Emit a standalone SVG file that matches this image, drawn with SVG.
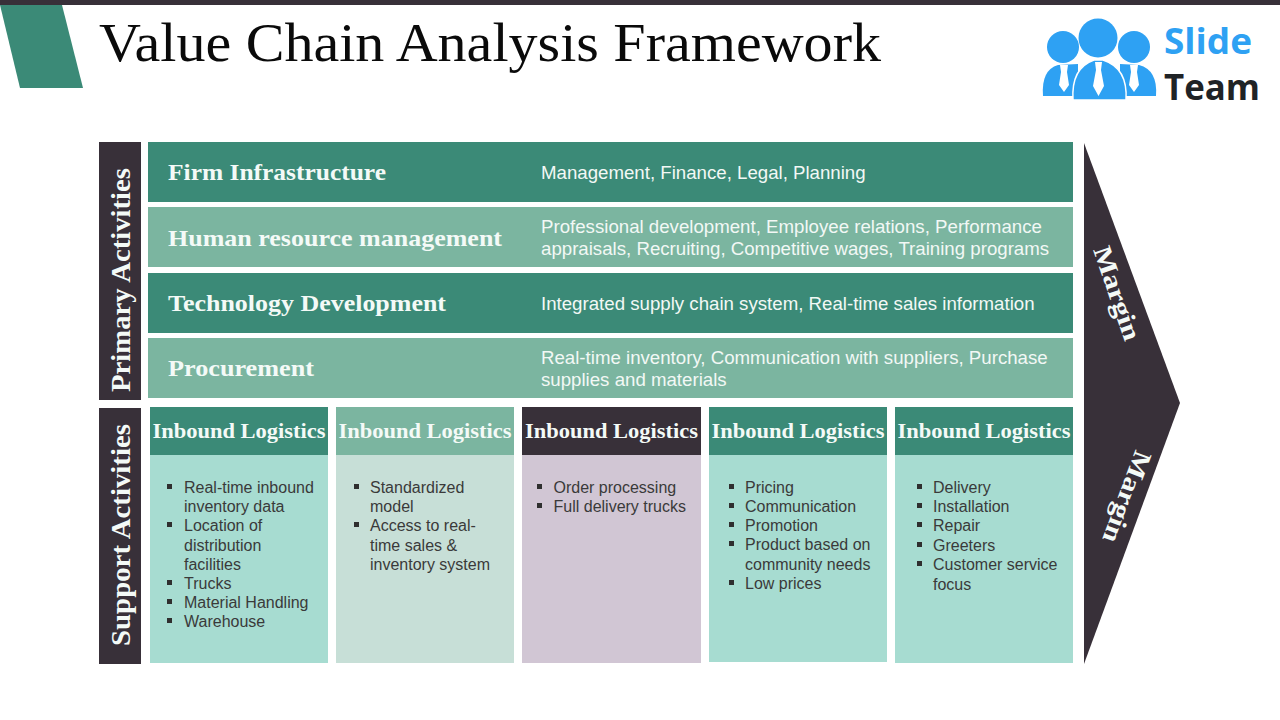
<svg xmlns="http://www.w3.org/2000/svg" width="1280" height="720" viewBox="0 0 1280 720">
<style>
.h{font-family:"Liberation Serif","DejaVu Serif",serif;font-weight:700;fill:#f4faf7}
.row{font-size:24px}
.col{font-size:20.5px;text-anchor:middle}
.side{font-size:27px;text-anchor:middle}
.t{font-family:"Liberation Sans",Arial,sans-serif;font-size:18.67px;fill:#f2f8f5}
.b{font-family:"Liberation Sans",Arial,sans-serif;font-size:16px;fill:#3a3a3a}
.d{fill:#383039}.g{fill:#3b8a77}.l{fill:#7bb5a0}
.bullet{fill:#2f2f2f}
.blue{fill:#2ea1f3}
</style>
<rect width="1280" height="720" fill="#fff"/>
<rect class="d" width="1280" height="5"/>
<polygon id="accent" class="g" points="0,5 62,5 83,88 20,88"/>
<text id="title" x="99" y="61" font-family="'Liberation Serif',serif" font-size="55px" fill="#0a0a0a" textLength="782" lengthAdjust="spacingAndGlyphs">Value Chain Analysis Framework</text>
<g id="logo">
<circle class="blue" cx="1063" cy="47" r="16"/><circle class="blue" cx="1134" cy="47" r="16"/><circle class="blue" cx="1098" cy="38" r="19.5"/>
<path class="blue" d="M1043,96 Q1041,70 1058,65 L1078,64 L1078,96Z"/>
<path class="blue" d="M1156,96 Q1158,70 1139,65 L1120,64 L1120,96Z"/>
<path class="blue" d="M1073,100 Q1071,68 1094,60 L1103,60 Q1128,68 1126,100Z" stroke="#fff" stroke-width="1.5"/>
<polygon points="1095,62 1102,62 1101,70 1104,86 1098.500,96 1093,86 1096,70" fill="#fff"/>
<polygon points="1060,65 1068,65 1067,72 1069,85 1064,92 1059,85 1061,72" fill="#fff"/>
<polygon points="1130,65 1138,65 1137,72 1139,85 1134,92 1129,85 1131,72" fill="#fff"/>
<text x="1164" y="54" font-family="'Open Sans','DejaVu Sans',sans-serif" font-weight="700" font-size="35px" fill="#2ea1f3" textLength="88" lengthAdjust="spacingAndGlyphs">Slide</text>
<text x="1164" y="100" font-family="'Open Sans','DejaVu Sans',sans-serif" font-weight="700" font-size="35px" fill="#1f2326" textLength="96" lengthAdjust="spacingAndGlyphs">Team</text>
</g>
<g id="primary-label"><rect class="d" x="99" y="142" width="42" height="258"/>
<text class="h side" transform="translate(130,280) rotate(-90)" textLength="224" lengthAdjust="spacingAndGlyphs">Primary Activities</text></g>
<g id="support-label"><rect class="d" x="99" y="408" width="42" height="256"/>
<text class="h side" transform="translate(130,535) rotate(-90)" textLength="222" lengthAdjust="spacingAndGlyphs">Support Activities</text></g>
<g id="row-firm"><rect class="g" x="148" y="142" width="925" height="60"/>
<text class="h row" x="168" y="180" textLength="218" lengthAdjust="spacingAndGlyphs">Firm Infrastructure</text>
<text class="t" x="541" y="179">Management, Finance, Legal, Planning</text></g>
<g id="row-hr"><rect class="l" x="148" y="207" width="925" height="60"/>
<text class="h row" x="168" y="246" textLength="334" lengthAdjust="spacingAndGlyphs">Human resource management</text>
<text class="t" x="541" y="233">Professional development, Employee relations, Performance</text>
<text class="t" x="541" y="255">appraisals, Recruiting, Competitive wages, Training programs</text></g>
<g id="row-tech"><rect class="g" x="148" y="273" width="925" height="60"/>
<text class="h row" x="168" y="311" textLength="278" lengthAdjust="spacingAndGlyphs">Technology Development</text>
<text class="t" x="541" y="310">Integrated supply chain system, Real-time sales information</text></g>
<g id="row-proc"><rect class="l" x="148" y="338" width="925" height="60"/>
<text class="h row" x="168" y="376" textLength="146" lengthAdjust="spacingAndGlyphs">Procurement</text>
<text class="t" x="541" y="364">Real-time inventory, Communication with suppliers, Purchase</text>
<text class="t" x="541" y="386">supplies and materials</text></g>
<g id="col-1"><rect fill="#a7dcd1" x="150" y="455" width="178" height="208"/><rect class="g" x="150" y="407" width="178" height="48"/>
<text class="h col" x="239" y="438" textLength="173" lengthAdjust="spacingAndGlyphs">Inbound Logistics</text>
<g class="b"><text x="184" y="493">Real-time inbound</text><text x="184" y="512">inventory data</text><text x="184" y="531">Location of</text><text x="184" y="551">distribution</text><text x="184" y="570">facilities</text><text x="184" y="589">Trucks</text><text x="184" y="608">Material Handling</text><text x="184" y="627">Warehouse</text></g>
<g class="bullet"><rect x="167" y="484" width="5" height="5"/><rect x="167" y="522" width="5" height="5"/><rect x="167" y="580" width="5" height="5"/><rect x="167" y="599" width="5" height="5"/><rect x="167" y="618" width="5" height="5"/></g></g>
<g id="col-2"><rect fill="#c7dfd7" x="336" y="455" width="178" height="208"/><rect class="l" x="336" y="407" width="178" height="48"/>
<text class="h col" x="425" y="438" textLength="173" lengthAdjust="spacingAndGlyphs">Inbound Logistics</text>
<g class="b"><text x="370" y="493">Standardized</text><text x="370" y="512">model</text><text x="370" y="531">Access to real-</text><text x="370" y="551">time sales &amp;</text><text x="370" y="570">inventory system</text></g>
<g class="bullet"><rect x="354" y="484" width="5" height="5"/><rect x="354" y="522" width="5" height="5"/></g></g>
<g id="col-3"><rect fill="#d1c6d4" x="522" y="455" width="179" height="208"/><rect class="d" x="522" y="407" width="179" height="48"/>
<text class="h col" x="611.500" y="438" textLength="173" lengthAdjust="spacingAndGlyphs">Inbound Logistics</text>
<g class="b"><text x="553.500" y="493">Order processing</text><text x="553.500" y="512">Full delivery trucks</text></g>
<g class="bullet"><rect x="537" y="484" width="5" height="5"/><rect x="537" y="503" width="5" height="5"/></g></g>
<g id="col-4"><rect fill="#a7dcd1" x="709" y="455" width="178" height="207"/><rect class="g" x="709" y="407" width="178" height="48"/>
<text class="h col" x="798" y="438" textLength="173" lengthAdjust="spacingAndGlyphs">Inbound Logistics</text>
<g class="b"><text x="745" y="493">Pricing</text><text x="745" y="512">Communication</text><text x="745" y="531">Promotion</text><text x="745" y="550">Product based on</text><text x="745" y="570">community needs</text><text x="745" y="589">Low prices</text></g>
<g class="bullet"><rect x="729" y="484" width="5" height="5"/><rect x="729" y="503" width="5" height="5"/><rect x="729" y="522" width="5" height="5"/><rect x="729" y="541" width="5" height="5"/><rect x="729" y="580" width="5" height="5"/></g></g>
<g id="col-5"><rect fill="#a7dcd1" x="895" y="455" width="178" height="208"/><rect class="g" x="895" y="407" width="178" height="48"/>
<text class="h col" x="984" y="438" textLength="173" lengthAdjust="spacingAndGlyphs">Inbound Logistics</text>
<g class="b"><text x="933" y="493">Delivery</text><text x="933" y="512">Installation</text><text x="933" y="531">Repair</text><text x="933" y="551">Greeters</text><text x="933" y="570">Customer service</text><text x="933" y="590">focus</text></g>
<g class="bullet"><rect x="917" y="484" width="5" height="5"/><rect x="917" y="503" width="5" height="5"/><rect x="917" y="522" width="5" height="5"/><rect x="917" y="542" width="5" height="5"/><rect x="917" y="561" width="5" height="5"/></g></g>
<g id="margin"><polygon class="d" points="1084,143 1180,403 1084,664"/>
<text class="h" font-size="26px" text-anchor="middle" transform="translate(1109,296) rotate(71)" textLength="98" lengthAdjust="spacingAndGlyphs">Margin</text>
<text class="h" font-size="26px" text-anchor="middle" transform="translate(1119,494) rotate(110.500)" textLength="96" lengthAdjust="spacingAndGlyphs">Margin</text></g>
</svg>
